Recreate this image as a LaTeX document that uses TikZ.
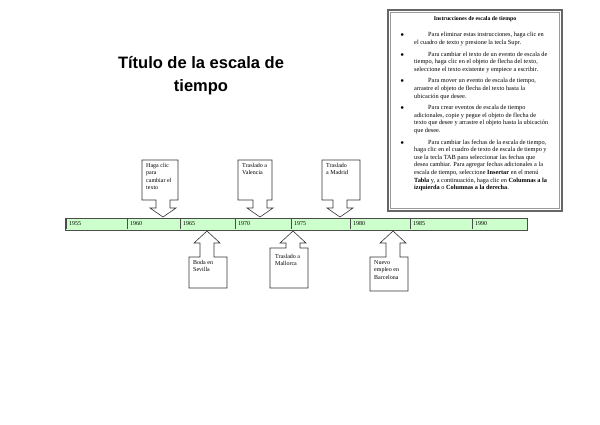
\documentclass[tikz,border=0pt]{standalone}
\usepackage{fontspec}
\setmainfont{Liberation Serif}
\newfontfamily\titlefont{Liberation Sans}
\begin{document}
\begin{tikzpicture}[x=1pt,y=-1pt,
  lbl/.style={font=\fontsize{6}{7.5}\selectfont,align=left,anchor=north west,inner sep=0pt},
  yr/.style={font=\fontsize{6}{7}\selectfont,anchor=west,inner sep=0pt},
  call/.style={draw=black!80,fill=white,line width=0.6pt}]
\useasboundingbox (0,0) rectangle (600,424);
% title
\node[font=\titlefont\bfseries\fontsize{16.5}{23}\selectfont,align=center] (title) at (201,76) {Título de la escala de\\tiempo};
% instructions
\draw[black!60,line width=1.2pt] (388,10) rectangle (562,211);
\draw[black!40,line width=0.4pt] (390.5,12.5) rectangle (559.5,208.5);
\node[font=\bfseries\fontsize{5.8}{7}\selectfont] (ititle) at (475,19) {Instrucciones de escala de tiempo};
\node[anchor=north west,inner sep=0pt,text width=152pt,font=\fontsize{6.3}{7.6}\selectfont,align=flush left] (itext) at (396,29) {%
\begin{list}{$\bullet$}{\leftmargin=18pt\labelwidth=8pt\labelsep=10pt\itemsep=4pt\parsep=0pt\topsep=0pt}
\item \hspace*{14pt}Para eliminar estas instrucciones, haga clic en el cuadro de texto y presione la tecla Supr.
\item \hspace*{14pt}Para cambiar el texto de un evento de escala de tiempo, haga clic en el objeto de flecha del texto, seleccione el texto existente y empiece a escribir.
\item \hspace*{14pt}Para mover un evento de escala de tiempo, arrastre el objeto de flecha del texto hasta la ubicación que desee.
\item \hspace*{14pt}Para crear eventos de escala de tiempo adicionales, copie y pegue el objeto de flecha de texto que desee y arrastre el objeto hasta la ubicación que desee.
\item \hspace*{14pt}Para cambiar las fechas de la escala de tiempo, haga clic en el cuadro de texto de escala de tiempo y use la tecla TAB para seleccionar las fechas que desea cambiar. Para agregar fechas adicionales a la escala de tiempo, seleccione \textbf{Insertar} en el menú \textbf{Tabla} y, a continuación, haga clic en \textbf{Columnas a la izquierda} o \textbf{Columnas a la derecha}.
\end{list}};
% timeline
\draw[fill=green!20,draw=black!70,line width=0.6pt] (65,218) rectangle (527,230);
\draw[black!70,line width=1pt] (65,218)--(65,230) (527,218)--(527,230);
\foreach \x/\y [count=\i] in {66/1955,127/1960,180/1965,235/1970,291/1975,350/1980,410/1985,472/1990}{
  \draw[black!70,line width=0.4pt] (\x,219)--(\x,229);
  \node[yr] (y\i) at (\x+3,224) {\y};
}
% down callouts (above)
\foreach \l/\r/\t/\tip/\n in {142/178/160/163/a,238/272/160/260/b,322/360/160/340/c}{
  \draw[call] (\l,\t)--(\r,\t)--(\r,200)--(\tip+7,200)--(\tip+7,208)--(\tip+13,208)--(\tip,217)--(\tip-13,208)--(\tip-7,208)--(\tip-7,200)--(\l,200)--cycle;
}
\node[lbl] (ta) at (146,163) {Haga clic\\para\\cambiar el\\texto};
\node[lbl] (tb) at (242,163) {Traslado a\\Valencia};
\node[lbl] (tc) at (326,163) {Traslado\\a Madrid};
% up callouts (below)
\foreach \l/\r/\t/\b/\tip/\n in {189/227/257/288/207/d,270/308/248/288/293/e,370/408/257/291/393/f}{
  \draw[call] (\l,\t)--(\tip-7,\t)--(\tip-7,243)--(\tip-13,243)--(\tip,231)--(\tip+13,243)--(\tip+7,243)--(\tip+7,\t)--(\r,\t)--(\r,\b)--(\l,\b)--cycle;
}
\node[lbl] (td) at (193,260) {Boda en\\Sevilla};
\node[lbl] (te) at (275,254) {Traslado a\\Mallorca};
\node[lbl] (tf) at (374,260) {Nuevo\\empleo en\\Barcelona};
\end{tikzpicture}
\end{document}
